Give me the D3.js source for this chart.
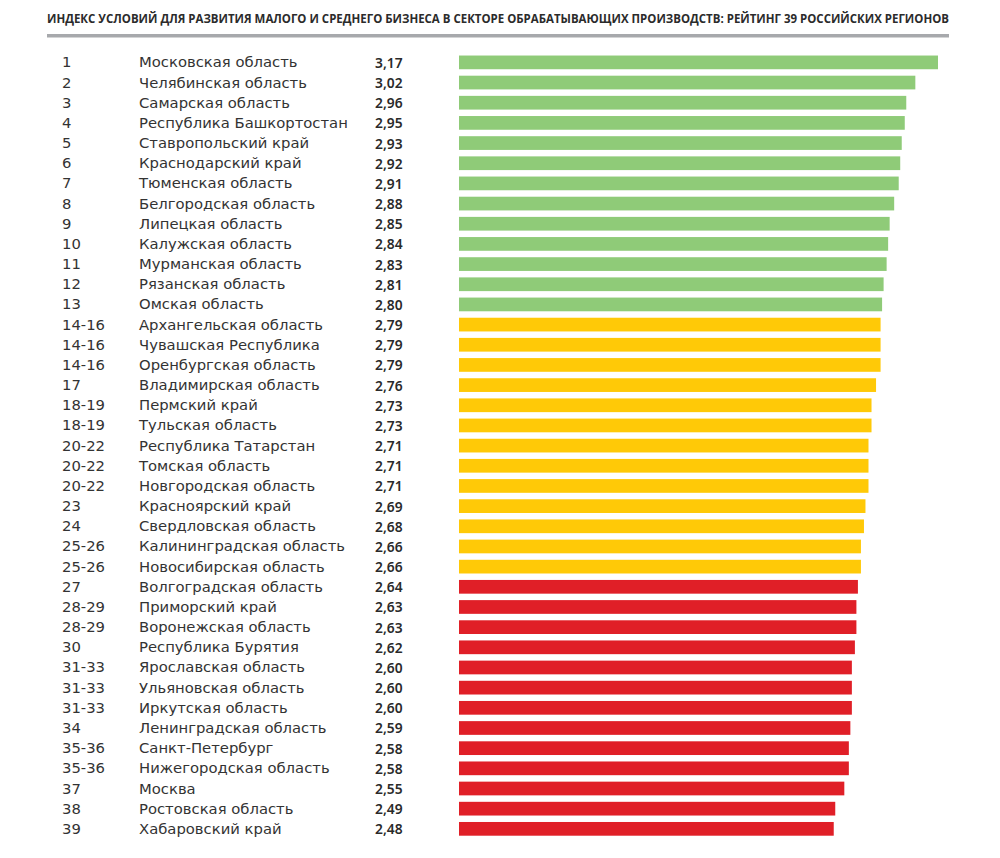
<!DOCTYPE html>
<html>
<head>
<meta charset="utf-8">
<script src="https://cdn.jsdelivr.net/npm/d3@7"></script>
<style>
  body { margin: 0; background: #fff; }
  svg { display: block; }
  .rank, .name { font-family: "DejaVu Sans", sans-serif; font-size: 14.8px; fill: #333; }
  .val { font-family: "Noto Sans", sans-serif; font-size: 13.8px; font-weight: 600; fill: #2a2a2a; }
  .title { font-family: "Open Sans", sans-serif; font-size: 11.5px; font-weight: 700; fill: #2b2b2b; }
</style>
</head>
<body>
<svg id="chart" width="1000" height="858"></svg>
<script>
// данные рейтинга
const ranks = ["1","2","3","4","5","6","7","8","9","10","11","12","13",
  "14-16","14-16","14-16","17","18-19","18-19","20-22","20-22","20-22","23","24","25-26","25-26",
  "27","28-29","28-29","30","31-33","31-33","31-33","34","35-36","35-36","37","38","39"];

const regions = ["Московская область","Челябинская область","Самарская область","Республика Башкортостан",
  "Ставропольский край","Краснодарский край","Тюменская область","Белгородская область","Липецкая область",
  "Калужская область","Мурманская область","Рязанская область","Омская область",
  "Архангельская область","Чувашская Республика","Оренбургская область","Владимирская область",
  "Пермский край","Тульская область","Республика Татарстан","Томская область","Новгородская область",
  "Красноярский край","Свердловская область","Калининградская область","Новосибирская область",
  "Волгоградская область","Приморский край","Воронежская область","Республика Бурятия",
  "Ярославская область","Ульяновская область","Иркутская область","Ленинградская область",
  "Санкт-Петербург","Нижегородская область","Москва","Ростовская область","Хабаровский край"];

const values = [3.17,3.02,2.96,2.95,2.93,2.92,2.91,2.88,2.85,2.84,2.83,2.81,2.80,
  2.79,2.79,2.79,2.76,2.73,2.73,2.71,2.71,2.71,2.69,2.68,2.66,2.66,
  2.64,2.63,2.63,2.62,2.60,2.60,2.60,2.59,2.58,2.58,2.55,2.49,2.48];

// группа: 0 - лидеры, 1 - середина, 2 - отстающие
const groups = [0,0,0,0,0,0,0,0,0,0,0,0,0,
  1,1,1,1,1,1,1,1,1,1,1,1,1,
  2,2,2,2,2,2,2,2,2,2,2,2,2];

const groupColors = ["#8fcb78", "#ffc907", "#e01f27"];

const titleText = "ИНДЕКС УСЛОВИЙ ДЛЯ РАЗВИТИЯ МАЛОГО И СРЕДНЕГО БИЗНЕСА В СЕКТОРЕ ОБРАБАТЫВАЮЩИХ ПРОИЗВОДСТВ: РЕЙТИНГ 39 РОССИЙСКИХ РЕГИОНОВ";

const svg = d3.select("#chart");

const rows = regions.map(function(d, i) {
  return { rank: ranks[i], name: d, value: values[i], group: groups[i] };
});

const x = d3.scaleLinear().domain([0, 3.17]).range([459, 938]);
const y = d3.scaleBand().domain(d3.range(rows.length))
  .range([52.3, 52.3 + 20.17 * rows.length]).paddingInner(0.32).paddingOuter(0.16);

// заголовок
svg.append("text")
  .attr("class", "title")
  .attr("x", 47)
  .attr("y", 23)
  .attr("textLength", 902)
  .attr("lengthAdjust", "spacingAndGlyphs")
  .text(titleText);

svg.append("rect")
  .attr("x", 47).attr("y", 34)
  .attr("width", 902).attr("height", 3.5)
  .attr("fill", "#a7a9ac");

svg.append("g").selectAll("rect")
  .data(rows)
  .enter().append("rect")
  .attr("x", x(0))
  .attr("y", function(d, i) { return y(i); })
  .attr("width", function(d) { return x(d.value) - x(0); })
  .attr("height", y.bandwidth())
  .attr("fill", function(d) { return groupColors[d.group]; });

const label = svg.append("g");

label.selectAll(".rank")
  .data(rows).enter().append("text")
  .attr("class", "rank")
  .attr("x", 62)
  .attr("y", function(d, i) { return y(i) + y.bandwidth() / 2 + 5; })
  .text(function(d) { return d.rank; });

label.selectAll(".name")
  .data(rows).enter().append("text")
  .attr("class", "name")
  .attr("x", 139)
  .attr("y", function(d, i) { return y(i) + y.bandwidth() / 2 + 5; })
  .text(function(d) { return d.name; });

label.selectAll(".val")
  .data(rows).enter().append("text")
  .attr("class", "val")
  .attr("x", 375)
  .attr("y", function(d, i) { return y(i) + y.bandwidth() / 2 + 5.5; })
  .text(function(d) { return d3.format(".2f")(d.value).replace(".", ","); });
</script>
</body>
</html>
